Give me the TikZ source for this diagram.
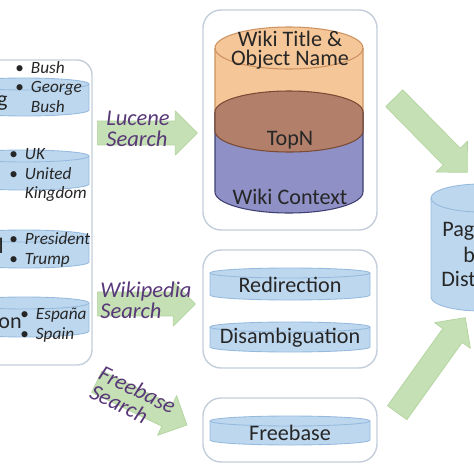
\documentclass[tikz,border=0pt]{standalone}
\usepackage{fontspec}
\setmainfont{Carlito}
\usetikzlibrary{shapes.arrows}
\definecolor{dbblue}{RGB}{189,215,238}
\definecolor{dbedge}{RGB}{150,186,222}
\definecolor{panelline}{RGB}{196,206,218}
\definecolor{arrowfill}{RGB}{197,224,180}
\definecolor{arrowedge}{RGB}{178,212,158}
\definecolor{searchtext}{RGB}{88,56,120}
\definecolor{titleorange}{RGB}{245,198,152}
\definecolor{orangeedge}{RGB}{204,146,96}
\definecolor{topnbrown}{RGB}{178,128,106}
\definecolor{brownedge}{RGB}{122,74,52}
\definecolor{ctxpurple}{RGB}{142,144,198}
\definecolor{ctxedge}{RGB}{62,62,112}
\definecolor{inktext}{RGB}{38,38,38}
\newcommand{\itembul}{{\upshape\textbullet}\hspace{4pt}}

\begin{document}
\begin{tikzpicture}[x=0.02cm,y=-0.02cm,line join=round,
  panel/.style={draw=panelline,line width=0.8pt,fill=white,rounded corners=0.36cm},
  flatdb/.style={fill=dbblue,draw=dbedge,line width=0.5pt},
  dblabel/.style={font=\fontsize{12.6}{13}\selectfont,text=inktext,inner sep=0pt},
  itemlist/.style={font=\fontsize{9.8}{11.3}\selectfont\itshape,text=inktext,align=left,inner sep=0pt,anchor=west},
  searchlabel/.style={font=\fontsize{12.8}{11.8}\selectfont\itshape,text=searchtext,align=left,inner sep=0pt},
  blockarrow/.style={single arrow,fill=arrowfill,draw=arrowedge,line width=0.4pt,inner xsep=0pt,inner ysep=0.23cm,minimum width=0.88cm,single arrow head extend=0.2cm,anchor=tail}]
\useasboundingbox (0,0) rectangle (474,474);
% query terms
\draw[panel,rounded corners=0.3cm] (-20,60) rectangle (92,365);
\path[flatdb] (-40,84) -- (-40,110) arc[start angle=180,end angle=0,x radius=64.5,y radius=6] -- (89,84) arc[start angle=0,end angle=-180,x radius=64.5,y radius=6] -- cycle;
\draw[dbedge,line width=0.5pt] (-40,84) arc[start angle=180,end angle=0,x radius=64.5,y radius=6];
\path[flatdb] (-40,156) -- (-40,184) arc[start angle=180,end angle=0,x radius=64.5,y radius=6] -- (89,156) arc[start angle=0,end angle=-180,x radius=64.5,y radius=6] -- cycle;
\draw[dbedge,line width=0.5pt] (-40,156) arc[start angle=180,end angle=0,x radius=64.5,y radius=6];
\path[flatdb] (-40,236) -- (-40,262) arc[start angle=180,end angle=0,x radius=64.5,y radius=6] -- (89,236) arc[start angle=0,end angle=-180,x radius=64.5,y radius=6] -- cycle;
\draw[dbedge,line width=0.5pt] (-40,236) arc[start angle=180,end angle=0,x radius=64.5,y radius=6];
\path[flatdb] (-40,303) -- (-40,331) arc[start angle=180,end angle=0,x radius=64.5,y radius=6] -- (89,303) arc[start angle=0,end angle=-180,x radius=64.5,y radius=6] -- cycle;
\draw[dbedge,line width=0.5pt] (-40,303) arc[start angle=180,end angle=0,x radius=64.5,y radius=6];
\node[dblabel,anchor=base east] (termA) at (8,106) {g};
\node[dblabel,anchor=base east] (termC) at (4,253) {l};
\node[dblabel,anchor=base east] (termD) at (22,328) {on};
\node[itemlist] (listA) at (15,87) {\itembul Bush\\\itembul George\\\hphantom{\itembul}Bush};
\node[itemlist] (listB) at (9,175) {\itembul UK\\\itembul United\\\hphantom{\itembul}Kingdom};
\node[itemlist] (listC) at (9,250) {\itembul President\\\itembul Trump};
\node[itemlist] (listD) at (20,325) {\itembul España\\\itembul Spain};
% lucene index
\draw[panel] (203,10) rectangle (377,230);
\path[fill=ctxpurple,draw=ctxedge,line width=0.6pt] (215,112) -- (215,192) arc[start angle=180,end angle=0,x radius=74,y radius=21] -- (363,112) -- cycle;
\path[fill=titleorange,draw=orangeedge,line width=0.6pt] (215,48) -- (215,112) -- (363,112) -- (363,48) arc[start angle=0,end angle=-180,x radius=74,y radius=21] -- cycle;
\path[fill=topnbrown,draw=brownedge,line width=0.6pt] (215,112) -- (215,131) arc[start angle=180,end angle=0,x radius=74,y radius=21] -- (363,112) arc[start angle=0,end angle=-180,x radius=74,y radius=21] -- cycle;
\draw[orangeedge,line width=0.6pt] (215,48) arc[start angle=180,end angle=0,x radius=74,y radius=21];
\node[dblabel,align=center,font=\fontsize{12.6}{11}\selectfont] (titlelayer) at (290,50) {Wiki Title \&\\Object Name};
\node[dblabel] (topnlayer) at (290,140) {TopN};
\node[dblabel] (contextlayer) at (290,197) {Wiki Context};
% wikipedia tables
\draw[panel] (203,250) rectangle (377,368);
\path[flatdb] (210,273) -- (210,295) arc[start angle=180,end angle=0,x radius=80,y radius=5] -- (370,273) arc[start angle=0,end angle=-180,x radius=80,y radius=5] -- cycle;
\draw[dbedge,line width=0.5pt] (210,273) arc[start angle=180,end angle=0,x radius=80,y radius=5];
\path[flatdb] (210,327) -- (210,347) arc[start angle=180,end angle=0,x radius=80,y radius=5] -- (370,327) arc[start angle=0,end angle=-180,x radius=80,y radius=5] -- cycle;
\draw[dbedge,line width=0.5pt] (210,327) arc[start angle=180,end angle=0,x radius=80,y radius=5];
\node[dblabel] (redirection) at (290,285) {Redirection};
\node[dblabel] (disambiguation) at (290,338) {Disambiguation};
% freebase
\draw[panel] (203,398) rectangle (377,462);
\path[flatdb] (210,421) -- (210,440) arc[start angle=180,end angle=0,x radius=80,y radius=5] -- (370,421) arc[start angle=0,end angle=-180,x radius=80,y radius=5] -- cycle;
\draw[dbedge,line width=0.5pt] (210,421) arc[start angle=180,end angle=0,x radius=80,y radius=5];
\node[dblabel] (freebase) at (290,433) {Freebase};
% ranking
\path[flatdb] (431,198) -- (431,297) arc[start angle=180,end angle=0,x radius=50,y radius=14] -- (531,198) arc[start angle=0,end angle=-180,x radius=50,y radius=14] -- cycle;
\draw[dbedge,line width=0.5pt] (431,198) arc[start angle=180,end angle=0,x radius=50,y radius=14];
\node[dblabel,anchor=west] (rankA) at (442,231) {Pag};
\node[dblabel,anchor=west] (rankB) at (463,255) {b};
\node[dblabel,anchor=west] (rankC) at (441,279) {Dist};
% search arrows
\node[blockarrow,minimum height=2cm] (lucenearrow) at (97,133) {};
\node[blockarrow,minimum height=1.96cm] (wikiarrow) at (97,304) {};
\node[blockarrow,minimum height=2cm,rotate=-25.7] (freebasearrow) at (96.5,381.5) {};
\node[blockarrow,minimum height=2.08cm,rotate=-45.4] (toparrow) at (394,98) {};
\node[blockarrow,minimum height=2.34cm,rotate=54.4] (bottomarrow) at (397,413) {};
\node[searchlabel,anchor=west] (lucenelabel) at (106,129) {Lucene\\Search};
\node[searchlabel,anchor=west] (wikilabel) at (100,300) {Wikipedia\\Search};
\node[searchlabel,rotate=-26] (freebaselabel) at (133,399) {Freebase\\Search};
\end{tikzpicture}
\end{document}
